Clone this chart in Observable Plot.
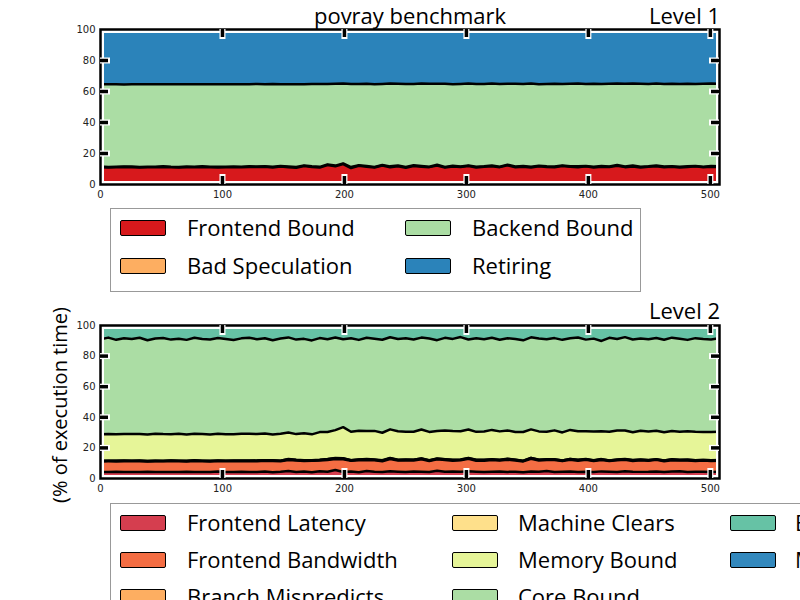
<!DOCTYPE html>
<html><head><meta charset="utf-8">
<script src="https://cdn.jsdelivr.net/npm/d3@7"></script>
<script src="https://cdn.jsdelivr.net/npm/@observablehq/plot@0.6"></script>
<style>
body{margin:0;background:#fff;}
#root{position:relative;width:800px;height:600px;overflow:hidden;font-family:"Humor Sans","Comic Sans MS","Open Sans",sans-serif;color:#000;}
.abs{position:absolute;white-space:nowrap;}
.ttl{font-size:22px;line-height:22px;}
.box{position:absolute;border:1.3px solid #999;background:#fff;box-sizing:border-box;}
.item{position:absolute;font-size:22px;line-height:22px;white-space:nowrap;}
.sw{position:absolute;width:46px;height:16px;border:1.2px solid #000;border-radius:2px;box-sizing:border-box;}
.panel{position:absolute;left:0;}
</style></head><body><div id="root"></div>
<script>
// ---------- Level 1 data (% of execution time) ----------
const level1Names = ["Frontend Bound","Bad Speculation","Backend Bound","Retiring"];
const level1Colors = ["#d7191c","#fdae61","#abdda4","#2b83ba"];
const frontendBound = [
11.2,11.0,11.1,11.3,11.2,11.0,11.1,11.2,11.3,11.1,
11.0,11.2,11.1,11.3,11.2,11.0,11.1,11.2,11.1,11.3,
11.2,11.4,11.0,11.6,11.2,10.8,11.9,11.3,10.9,12.6,
11.7,13.2,10.7,12.1,11.5,11.0,12.3,11.1,11.8,10.9,
12.0,11.4,11.2,12.2,10.9,11.6,11.3,11.9,11.0,11.4,
11.7,11.2,12.4,11.1,11.5,11.0,11.8,11.3,11.1,12.0,
11.4,11.2,11.7,11.0,11.5,11.3,12.1,11.2,11.6,11.0,
11.4,11.8,11.2,11.5,11.0,11.3,11.7,11.1,11.4,11.3];
const badSpeculation = [
0.4,0.3,0.4,0.3,0.4,0.3,0.4,0.3,0.4,0.3,
0.3,0.4,0.3,0.4,0.3,0.4,0.3,0.4,0.3,0.4,
0.4,0.3,0.5,0.3,0.4,0.6,0.3,0.4,0.5,0.3,
0.5,0.4,0.6,0.3,0.5,0.4,0.3,0.6,0.4,0.5,
0.4,0.5,0.3,0.6,0.4,0.5,0.3,0.4,0.6,0.4,
0.5,0.3,0.4,0.6,0.4,0.5,0.3,0.4,0.5,0.3,
0.4,0.6,0.3,0.5,0.4,0.3,0.5,0.4,0.6,0.4,
0.3,0.5,0.4,0.3,0.5,0.4,0.3,0.4,0.5,0.4];
const backendBound = [
53.1,53.3,53.2,53.0,53.1,53.3,53.2,53.1,53.0,53.2,
53.3,53.1,53.2,53.0,53.1,53.3,53.2,53.1,53.2,53.0,
53.2,53.0,53.4,52.7,53.1,53.6,52.4,53.1,53.5,51.9,
52.8,51.5,53.9,52.4,53.0,53.6,52.3,53.4,52.8,53.7,
52.6,53.2,53.5,52.3,53.7,52.9,53.3,52.8,53.7,53.1,
52.9,53.4,52.2,53.5,53.0,53.6,52.8,53.2,53.4,52.6,
53.2,53.4,52.8,53.6,53.0,53.3,52.5,53.4,52.9,53.6,
53.1,52.8,53.4,53.0,53.6,53.3,52.9,53.5,53.2,53.3];
const retiring = [
35.3,35.4,35.3,35.5,35.3,35.4,35.3,35.4,35.3,35.4,
35.4,35.3,35.4,35.3,35.4,35.3,35.3,35.3,35.4,35.3,
35.1,35.3,35.1,35.4,35.3,35.6,35.4,35.2,35.1,35.2,
35.0,34.9,35.4,35.2,35.0,35.6,35.1,34.9,35.0,35.4,
35.3,34.9,35.0,35.0,35.0,35.4,35.1,34.9,35.3,35.1,
34.9,35.1,35.0,35.2,35.1,34.9,35.4,35.1,35.0,35.1,
35.0,34.8,35.2,35.0,35.1,35.0,34.9,35.0,34.9,35.0,
35.2,34.9,35.2,35.0,35.3,35.0,35.1,35.0,34.9,35.0];

// ---------- Level 2 data ----------
const level2Names = ["Frontend Latency","Frontend Bandwidth","Branch Mispredicts","Machine Clears","Memory Bound","Core Bound","Base","Microcode Sequencer"];
const level2Colors = ["#d53e4f","#f46d43","#fdae61","#fee08b","#e6f598","#abdda4","#66c2a5","#3288bd"];
const frontendLatency = [
4.3,4.2,4.4,4.3,4.2,4.3,4.4,4.2,4.3,4.3,
4.2,4.4,4.3,4.2,4.3,4.5,4.2,4.3,4.4,4.2,
4.3,4.6,4.2,4.4,4.8,4.3,4.5,4.2,4.7,4.4,
5.6,4.3,4.6,4.2,4.9,4.4,4.3,4.7,4.5,4.2,
4.6,4.4,4.3,5.2,4.4,4.6,4.3,4.8,4.5,4.2,
4.4,4.7,4.3,4.5,4.2,4.6,4.4,4.9,4.3,4.5,
4.6,4.3,4.5,4.2,4.7,4.4,4.3,4.8,4.5,4.3,
4.4,4.6,4.3,4.5,4.7,4.3,4.4,4.5,4.3,4.4];
const frontendBandwidth = [
6.9,7.0,6.8,7.0,7.1,6.9,6.8,7.0,6.9,7.1,
7.0,6.8,7.1,7.0,6.9,6.8,7.1,7.0,6.9,7.0,
7.1,6.9,7.4,6.8,7.2,7.6,6.9,7.5,7.0,7.8,
7.2,8.4,7.0,7.9,7.3,7.6,7.1,8.0,7.4,7.7,
7.3,8.1,7.2,7.5,7.8,7.1,7.6,8.3,7.2,7.5,
7.7,7.2,7.9,7.4,7.1,8.2,7.5,7.3,7.8,7.0,
7.6,7.3,7.9,7.2,7.5,7.0,7.7,7.4,7.1,7.6,
7.3,7.5,7.1,7.4,7.2,7.6,7.0,7.3,7.2,7.1];
const branchMispredicts = [
0.3,0.3,0.4,0.3,0.3,0.4,0.3,0.3,0.3,0.4,
0.3,0.4,0.3,0.3,0.4,0.3,0.3,0.4,0.3,0.3,
0.4,0.3,0.4,0.3,0.5,0.3,0.4,0.3,0.4,0.5,
0.4,0.5,0.3,0.4,0.5,0.3,0.4,0.5,0.4,0.3,
0.4,0.5,0.3,0.4,0.4,0.5,0.3,0.4,0.5,0.4,
0.3,0.4,0.5,0.4,0.3,0.5,0.4,0.4,0.3,0.4,
0.5,0.4,0.3,0.4,0.5,0.3,0.4,0.4,0.5,0.3,
0.4,0.3,0.4,0.5,0.3,0.4,0.4,0.3,0.4,0.4];
const machineClears = [
0.1,0.1,0.1,0.1,0.1,0.1,0.1,0.1,0.1,0.1,
0.1,0.1,0.1,0.1,0.1,0.1,0.1,0.1,0.1,0.1,
0.1,0.1,0.1,0.1,0.1,0.2,0.1,0.1,0.1,0.1,
0.2,0.1,0.1,0.1,0.1,0.1,0.2,0.1,0.1,0.1,
0.1,0.1,0.2,0.1,0.1,0.1,0.1,0.1,0.1,0.2,
0.1,0.1,0.1,0.1,0.2,0.1,0.1,0.1,0.1,0.1,
0.1,0.2,0.1,0.1,0.1,0.1,0.1,0.2,0.1,0.1,
0.1,0.1,0.1,0.1,0.1,0.2,0.1,0.1,0.1,0.1];
const memoryBound = [
17.4,17.5,17.3,17.4,17.5,17.3,17.4,17.5,17.4,17.3,
17.5,17.4,17.3,17.4,17.5,17.3,17.4,17.4,17.5,17.3,
17.4,17.3,17.2,17.5,17.1,16.9,17.6,17.2,18.0,17.8,
18.2,20.5,18.6,18.9,18.4,18.8,18.2,18.6,18.9,18.1,
18.3,18.9,18.6,18.2,18.7,18.9,18.4,18.8,18.3,18.5,
19.2,18.8,18.4,18.3,18.9,18.5,18.6,18.2,18.8,18.5,
19.0,18.6,18.3,18.9,18.4,18.6,19.1,18.5,18.3,18.7,
18.8,18.4,18.6,18.3,18.5,18.7,18.4,18.3,18.5,18.4];
const coreBound = [
62.3,62.8,61.9,62.5,62.1,62.6,62.2,61.8,62.7,62.4,
62.0,62.6,62.3,61.7,62.9,62.2,62.5,61.9,62.4,62.1,
62.5,61.8,62.7,62.0,61.6,62.4,61.4,62.3,61.2,61.0,
60.6,57.8,61.2,60.1,61.3,60.4,61.4,59.8,61.0,60.9,
60.7,59.9,61.3,60.2,60.8,60.5,61.0,59.6,61.4,60.6,
60.1,60.7,59.9,61.2,60.6,59.8,61.1,60.9,60.0,61.3,
59.9,61.1,60.4,60.8,59.6,61.2,60.3,60.9,61.3,59.8,
60.9,60.2,61.0,60.7,61.2,60.4,60.8,61.3,60.5,60.9];
const base = [
8.9,7.8,9.3,8.2,8.8,7.9,9.6,8.4,8.1,9.2,
8.5,9.4,7.9,8.7,9.1,8.0,8.8,9.5,8.3,7.8,
9.0,8.2,9.7,8.4,7.6,9.2,8.6,9.8,8.1,8.9,
7.7,9.0,8.3,9.4,7.9,8.6,9.3,7.5,8.8,8.2,
9.1,7.8,8.5,9.6,8.0,8.7,7.4,9.2,8.3,8.9,
7.9,9.3,8.2,8.8,9.7,7.6,8.5,9.0,8.1,9.4,
8.3,7.7,9.2,8.5,10.1,7.9,8.8,7.5,9.1,8.4,
8.9,8.0,9.3,7.8,8.6,9.4,8.1,8.7,9.0,8.2];
const microcodeSequencer = [
0.1,0.1,0.1,0.1,0.1,0.1,0.1,0.1,0.1,0.1,
0.1,0.1,0.1,0.1,0.1,0.1,0.1,0.1,0.1,0.1,
0.1,0.1,0.1,0.1,0.1,0.1,0.1,0.1,0.1,0.1,
0.1,0.1,0.1,0.1,0.1,0.1,0.1,0.1,0.1,0.1,
0.1,0.1,0.1,0.1,0.1,0.1,0.1,0.1,0.1,0.1,
0.1,0.1,0.1,0.1,0.1,0.1,0.1,0.1,0.1,0.1,
0.1,0.1,0.1,0.1,0.1,0.1,0.1,0.1,0.1,0.1,
0.1,0.1,0.1,0.1,0.1,0.1,0.1,0.1,0.1,0.1];

const lastSample = 507;
const xTickValues = [0,100,200,300,400,500];
const yTickValues = [0,20,40,60,80,100];

function toLong(names, arrays) {
  const n = Math.min(...arrays.map(a => a.length));
  const out = [];
  names.forEach((name, k) => {
    for (let i = 0; i < n; i++) out.push({x: i * lastSample / (n - 1), series: name, value: arrays[k][i]});
  });
  return out;
}

const level1 = toLong(level1Names, [frontendBound, badSpeculation, backendBound, retiring]);
const level2 = toLong(level2Names, [frontendLatency, frontendBandwidth, branchMispredicts, machineClears, memoryBound, coreBound, base, microcodeSequencer]);

function panel(data, names, colors, height, mt, mb) {
  const innerX = xTickValues.filter(d => d > 0);
  const innerY = yTickValues.filter(d => d > 0 && d < 100).map(d => d / 100);
  const pxY = (height - mt - mb);
  const ty = 8 / pxY, tyW = 10 / pxY;
  const ux = 507.5 / 619;
  const tx = 8 * ux, txW = 10 * ux;
  return Plot.plot({
    width: 800, height, marginLeft: 100, marginRight: 81, marginTop: mt, marginBottom: mb,
    x: {domain: [0, 507.5]},
    y: {domain: [0, 1]},
    color: {domain: names, range: colors},
    style: {fontFamily: "DejaVu Sans", fontSize: "10px", color: "#222", background: "transparent", overflow: "visible"},
    marks: [
      Plot.areaY(data, {x: "x", y: "value", z: "series", fill: "series", order: names, offset: "normalize"}),
      Plot.lineY(data, Plot.stackY2({x: "x", y: "value", z: "series", order: names, offset: "normalize", stroke: "black", strokeWidth: 2.5, strokeLinejoin: "round"})),
      Plot.frame({stroke: "white", strokeWidth: 7}),
      Plot.frame({stroke: "black", strokeWidth: 2.5}),
      Plot.ruleX(innerX, {x: d => d, y1: 0, y2: tyW, stroke: "white", strokeWidth: 6}),
      Plot.ruleX(innerX, {x: d => d, y1: 0, y2: ty, stroke: "black", strokeWidth: 3.5}),
      Plot.ruleX(innerX, {x: d => d, y1: 1 - tyW, y2: 1, stroke: "white", strokeWidth: 6}),
      Plot.ruleX(innerX, {x: d => d, y1: 1 - ty, y2: 1, stroke: "black", strokeWidth: 3.5}),
      Plot.ruleY(innerY, {y: d => d, x1: 0, x2: txW, stroke: "white", strokeWidth: 6}),
      Plot.ruleY(innerY, {y: d => d, x1: 0, x2: tx, stroke: "black", strokeWidth: 3.5}),
      Plot.ruleY(innerY, {y: d => d, x1: 507.5 - txW, x2: 507.5, stroke: "white", strokeWidth: 6}),
      Plot.ruleY(innerY, {y: d => d, x1: 507.5 - tx, x2: 507.5, stroke: "black", strokeWidth: 3.5}),
      Plot.axisX({ticks: xTickValues, tickSize: 0, tickPadding: 6, label: null}),
      Plot.axisY({ticks: yTickValues.map(d => d / 100), tickFormat: d => String(Math.round(d * 100)), tickSize: 0, tickPadding: 5, label: null})
    ]
  });
}

const root = document.getElementById("root");
function addDiv(cls, style, text) {
  const d = document.createElement("div");
  d.className = cls;
  Object.assign(d.style, style);
  if (text != null) d.textContent = text;
  root.appendChild(d);
  return d;
}

// Panel 1
const p1 = panel(level1, level1Names, level1Colors, 205, 29, 21);
const w1 = addDiv("panel", {top: "0px"}); w1.appendChild(p1);
addDiv("abs ttl", {left: "410px", top: "4px", transform: "translateX(-50%)"}, "povray benchmark");
addDiv("abs ttl", {right: "80px", top: "4px"}, "Level 1");

// Panel 2
const p2 = panel(level2, level2Names, level2Colors, 200, 25, 22);
const w2 = addDiv("panel", {top: "300px"}); w2.appendChild(p2);
addDiv("abs ttl", {right: "80px", top: "299px"}, "Level 2");
addDiv("abs", {left: "60px", top: "405px", fontSize: "20px", lineHeight: "20px", transform: "translate(-50%,-50%) rotate(-90deg)"}, "(% of execution time)");

// Legends
function legend(names, colors, box, swX, txtX, rowY, rows) {
  addDiv("box", {left: box[0] + "px", top: box[1] + "px", width: box[2] + "px", height: box[3] + "px"});
  names.forEach((name, i) => {
    const c = Math.floor(i / rows), r = i % rows;
    addDiv("sw", {left: swX[c] + "px", top: (rowY[r] - 8) + "px", background: colors[i]});
    addDiv("item", {left: txtX[c] + "px", top: (rowY[r] - 12) + "px"}, name);
  });
}
legend(level1Names, level1Colors, [110, 208, 531, 84], [120, 405], [187, 472], [228, 266], 2);
legend(level2Names, level2Colors, [110, 503, 760, 140], [120, 452, 730], [187, 518, 795], [523, 560, 597], 3);
</script></body></html>
